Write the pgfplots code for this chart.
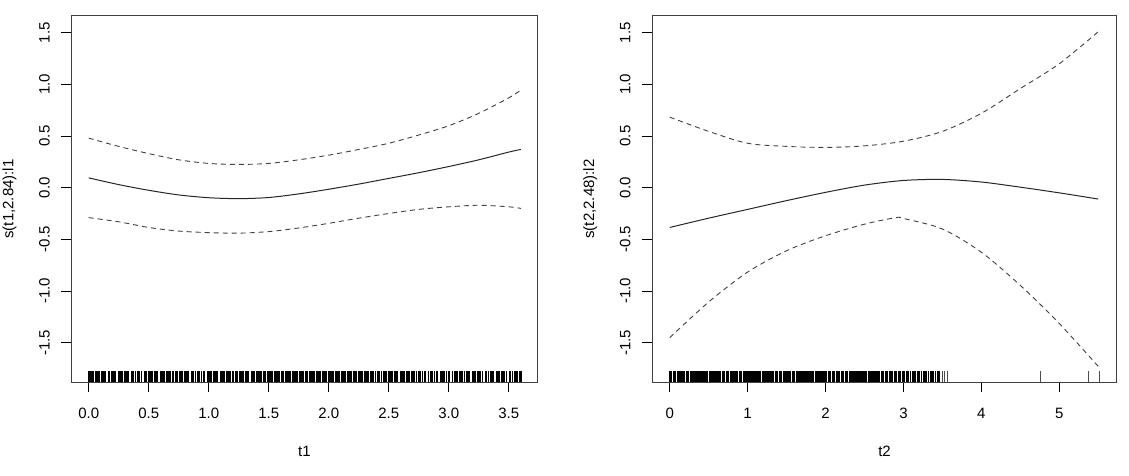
\documentclass[border=0pt]{standalone}
\usepackage{fontspec}
\setmainfont{Liberation Sans}
\usepackage{pgfplots}
\pgfplotsset{compat=1.18}

% rug values
\def\rugA{0.00,0.01,0.03,0.04,0.06,0.08,0.09,0.11,0.13,0.14,0.17,0.19,0.20,0.22,0.25,0.26,0.28,0.30,0.31,0.33,0.36,0.37,0.39,0.41,0.42,0.44,0.47,0.48,0.50,0.52,0.53,0.55,0.57,0.60,0.61,0.63,0.65,0.66,0.68,0.70,0.73,0.74,0.76,0.78,0.80,0.81,0.83,0.86,0.87,0.89,0.91,0.92,0.94,0.96,0.99,1.00,1.02,1.04,1.05,1.07,1.10,1.11,1.13,1.15,1.16,1.18,1.20,1.23,1.24,1.26,1.28,1.29,1.31,1.33,1.36,1.37,1.38,1.40,1.41,1.43,1.44,1.46,1.47,1.49,1.50,1.52,1.53,1.55,1.56,1.58,1.59,1.61,1.62,1.64,1.65,1.67,1.68,1.70,1.71,1.73,1.74,1.76,1.78,1.79,1.81,1.82,1.84,1.85,1.87,1.88,1.90,1.92,1.93,1.95,1.96,1.98,2.00,2.01,2.03,2.04,2.06,2.08,2.09,2.11,2.13,2.14,2.16,2.18,2.19,2.21,2.23,2.25,2.26,2.28,2.30,2.32,2.33,2.35,2.37,2.39,2.41,2.42,2.44,2.46,2.48,2.50,2.52,2.53,2.55,2.57,2.60,2.61,2.63,2.65,2.67,2.69,2.71,2.73,2.75,2.76,2.78,2.80,2.83,2.85,2.86,2.88,2.90,2.93,2.94,2.96,2.98,3.00,3.03,3.05,3.07,3.09,3.11,3.13,3.15,3.17,3.20,3.22,3.24,3.26,3.28,3.31,3.33,3.35,3.37,3.40,3.42,3.44,3.46,3.48,3.51,3.53,3.55,3.57,3.59,3.60}
\def\rugB{0.00,0.02,0.05,0.07,0.10,0.12,0.14,0.17,0.19,0.22,0.24,0.27,0.29,0.31,0.34,0.36,0.39,0.41,0.44,0.46,0.48,0.51,0.53,0.56,0.58,0.61,0.63,0.65,0.68,0.70,0.73,0.75,0.78,0.80,0.82,0.85,0.87,0.90,0.92,0.95,0.97,0.99,1.02,1.04,1.07,1.09,1.12,1.14,1.16,1.19,1.21,1.24,1.26,1.29,1.31,1.33,1.36,1.38,1.41,1.43,1.46,1.48,1.50,1.53,1.55,1.58,1.60,1.63,1.65,1.67,1.70,1.72,1.75,1.77,1.80,1.82,1.84,1.87,1.89,1.92,1.94,1.97,1.99,2.01,2.04,2.06,2.09,2.11,2.14,2.16,2.18,2.21,2.23,2.26,2.28,2.31,2.33,2.35,2.38,2.40,2.43,2.45,2.48,2.50,2.52,2.55,2.57,2.60,2.62,2.65,2.67,2.69,2.72,2.74,2.77,2.79,2.82,2.84,2.86,2.89,2.91,2.94,2.96,2.99,3.01,3.04,3.06,3.09,3.12,3.15,3.18,3.20,3.23,3.26,3.29,3.32,3.35,3.38,3.41,3.44,3.46}
% sparse right tail of t2
\def\rugBtail{3.50,3.53,3.57,4.76,5.37,5.51}

\pgfplotsset{
  gamplot/.style={
    scale only axis, height=366.6pt,
    ymin=-1.884, ymax=1.665,
    axis line style={black!75, line width=0.8pt},
    tick align=outside, major tick length=10pt,
    tick style={black, line width=0.8pt},
    xtick pos=left, ytick pos=left,
    ytick={-1.5,-1,-0.5,0,0.5,1,1.5},
    yticklabels={-1.5,-1.0,-0.5,0.0,0.5,1.0,1.5},
    tick label style={font=\fontsize{15}{18}\selectfont, inner sep=0pt},
    yticklabel style={rotate=90, anchor=south},
    yticklabel shift=11.5pt,
    xticklabel shift=16pt,
    xticklabel style={anchor=north},
    every axis x label/.style={at={(axis description cs:0.5,0)}, yshift=-69pt, anchor=center, font=\fontsize{15}{18}\selectfont},
    every axis y label/.style={at={(axis description cs:0,0.5)}, xshift=-62pt, rotate=90, anchor=center, font=\fontsize{15}{18}\selectfont},
    fit/.style={black!85, line width=1pt, smooth, no markers},
    band/.style={black!75, line width=0.9pt, smooth, no markers, dash pattern=on 5pt off 4pt},
    rug/.style={only marks, mark=|, mark size=5.5pt, black, mark options={solid, line width=1.8pt}},
    thinrug/.style={only marks, mark=|, mark size=5.5pt, black!70, mark options={solid, line width=0.8pt}},
  }
}

\begin{document}
\begin{tikzpicture}
\useasboundingbox (0pt,0pt) rectangle (1129pt,475pt);

\begin{axis}[gamplot, at={(71.4pt,92.7pt)}, anchor=south west, width=466pt,
  xmin=-0.144, xmax=3.738,
  xtick={0,0.5,1,1.5,2,2.5,3,3.5},
  xticklabels={0.0,0.5,1.0,1.5,2.0,2.5,3.0,3.5},
  xlabel={t1}, ylabel={s(t1,2.84):l1}]
  \addplot[fit] coordinates {(0,0.095) (0.25,0.03) (0.5,-0.025) (0.75,-0.07) (1.0,-0.097) (1.25,-0.106) (1.5,-0.095) (1.75,-0.06) (2.0,-0.015) (2.25,0.035) (2.5,0.09) (2.75,0.145) (3.0,0.205) (3.25,0.27) (3.5,0.345) (3.6,0.37)};
  \addplot[band] coordinates {(0,0.48) (0.25,0.40) (0.5,0.33) (0.75,0.27) (1.0,0.235) (1.25,0.225) (1.5,0.235) (1.75,0.27) (2.0,0.315) (2.25,0.37) (2.5,0.43) (2.75,0.51) (3.0,0.60) (3.25,0.72) (3.5,0.87) (3.6,0.945)};
  \addplot[band] coordinates {(0,-0.29) (0.25,-0.33) (0.5,-0.385) (0.75,-0.42) (1.0,-0.435) (1.25,-0.44) (1.5,-0.425) (1.75,-0.39) (2.0,-0.345) (2.25,-0.295) (2.5,-0.25) (2.75,-0.21) (3.0,-0.185) (3.25,-0.17) (3.5,-0.185) (3.6,-0.20)};
  \foreach \r in \rugA {\edef\tmp{\noexpand\addplot[rug] coordinates {(\r,-1.83)};}\tmp}
\end{axis}

\begin{axis}[gamplot, at={(652.3pt,92.7pt)}, anchor=south west, width=464.4pt,
  xmin=-0.224, xmax=5.737,
  xtick={0,1,2,3,4,5},
  xticklabels={0,1,2,3,4,5},
  xlabel={t2}, ylabel={s(t2,2.48):l2}]
  \addplot[fit] coordinates {(0,-0.385) (0.5,-0.295) (1.0,-0.21) (1.5,-0.125) (2.0,-0.045) (2.5,0.025) (3.0,0.07) (3.5,0.08) (4.0,0.055) (4.5,0.005) (5.0,-0.05) (5.5,-0.11)};
  \addplot[band] coordinates {(0,0.683) (0.5,0.545) (1.0,0.43) (1.5,0.40) (2.0,0.39) (2.5,0.405) (3.0,0.45) (3.5,0.545) (4.0,0.72) (4.5,0.96) (5.0,1.20) (5.5,1.51)};
  \addplot[band] coordinates {(0,-1.452) (0.5,-1.106) (1.0,-0.817) (1.5,-0.61) (2.0,-0.465) (2.5,-0.353) (2.9,-0.29) (3.0,-0.298) (3.5,-0.40) (4.0,-0.625) (4.5,-0.946) (5.0,-1.315) (5.5,-1.73)};
  \foreach \r in \rugB {\edef\tmp{\noexpand\addplot[rug] coordinates {(\r,-1.83)};}\tmp}
  \foreach \r in \rugBtail {\edef\tmp{\noexpand\addplot[thinrug] coordinates {(\r,-1.83)};}\tmp}
\end{axis}
\end{tikzpicture}
\end{document}
